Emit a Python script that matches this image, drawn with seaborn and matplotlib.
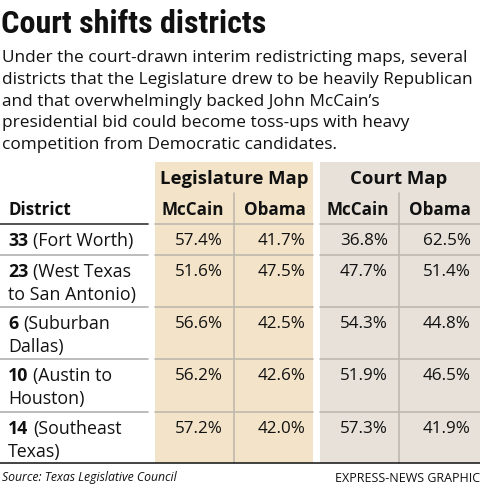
import matplotlib
matplotlib.use("Agg")
import matplotlib.pyplot as plt
from matplotlib import font_manager
import seaborn as sns

dist_num = ["33", "23", "6", "10", "14"]
dist_name = [["(Fort Worth)"],
             ["(West Texas", "to San Antonio)"],
             ["(Suburban", "Dallas)"],
             ["(Austin to", "Houston)"],
             ["(Southeast", "Texas)"]]
leg_mccain = [57.4, 51.6, 56.6, 56.2, 57.2]
leg_obama = [41.7, 47.5, 42.5, 42.6, 42.0]
court_mccain = [36.8, 47.7, 54.3, 51.9, 57.3]
court_obama = [62.5, 51.4, 44.8, 46.5, 41.9]

title = "Court shifts districts"
intro = ["Under the court-drawn interim redistricting maps, several",
         "districts that the Legislature drew to be heavily Republican",
         "and that overwhelmingly backed John McCain\u2019s",
         "presidential bid could become toss-ups with heavy",
         "competition from Democratic candidates."]

sns.set_theme(style="white")
plt.rcParams["font.family"] = ["Open Sans", "DejaVu Sans"]

W, H = 481, 488
fig = plt.figure(figsize=(W / 100, H / 100), dpi=100)
ax = fig.add_axes([0, 0, 1, 1])
ax.set_xlim(0, W)
ax.set_ylim(H, 0)
ax.axis("off")

def px(s):
    return s * 0.72

beige = "#f3e4c9"
greyband = "#e7e1d9"
ink = "#111111"

# pick a narrow bold face for the headline if one is around
installed = {f.name for f in font_manager.fontManager.ttflist}
narrow = [n for n in ["Liberation Sans Narrow", "Roboto Condensed", "Open Sans Condensed",
                      "DejaVu Sans Condensed", "Noto Sans Condensed", "Arial Narrow"]
          if n in installed]
title_family = narrow[:1] + ["Roboto", "DejaVu Sans"]

fig.canvas.draw()
renderer = fig.canvas.get_renderer()
inv = ax.transData.inverted()

def width_of(t):
    bb = t.get_window_extent(renderer)
    return inv.transform((bb.x1, bb.y0))[0] - inv.transform((bb.x0, bb.y0))[0]

tsize = 33
tt = ax.text(1, 24, title, fontsize=px(tsize), fontweight="bold", va="center",
             family=title_family, color=ink)
w = width_of(tt)
if w > 270:
    tt.set_fontsize(px(tsize * 266 / w))

for i, line in enumerate(intro):
    ax.text(2, 58.5 + i * 21.6, line, fontsize=px(17.2), va="center", color=ink)

# row layout
row_edges = [224, 255, 307, 359, 412, 463]
top_band = 162

ax.add_patch(plt.Rectangle((155, top_band), 158, 463 - top_band, color=beige, lw=0))
ax.add_patch(plt.Rectangle((320, top_band), W - 320, 463 - top_band, color=greyband, lw=0))

for x in [234, 399]:
    ax.plot([x, x], [193, 463], color="#bdb8ae", lw=1.2)

for j, y in enumerate(row_edges[:-1]):
    left_col = "#333333" if j == 0 else "#b0b0b0"
    ax.plot([0, 148], [y, y], color=left_col, lw=1.2)
    ax.plot([155, 313], [y, y], color="#bdb8ae", lw=1.2)
    ax.plot([320, W], [y, y], color="#bdb8ae", lw=1.2)
ax.plot([0, W], [463, 463], color="#222222", lw=1.2)

ax.text(234, 179, "Legislature Map", fontsize=px(18.5), fontweight="bold",
        ha="center", va="center", color=ink)
ax.text(399, 179, "Court Map", fontsize=px(18.5), fontweight="bold",
        ha="center", va="center", color=ink)
ax.text(8, 210, "District", fontsize=px(17), fontweight="bold", va="center", color=ink)
for cx, lab in zip([193, 275, 358, 440], ["McCain", "Obama", "McCain", "Obama"]):
    ax.text(cx, 210, lab, fontsize=px(17), fontweight="bold", ha="center",
            va="center", color=ink)

cols = [(223, leg_mccain), (306, leg_obama), (388, court_mccain), (471, court_obama)]
for i in range(len(dist_num)):
    y0 = row_edges[i] + 17
    t = ax.text(8, y0, dist_num[i], fontsize=px(17.8), fontweight="bold",
                va="center", color=ink)
    x_end = 8 + width_of(t)
    for k, part in enumerate(dist_name[i]):
        if k == 0:
            ax.text(x_end + 5, y0, part, fontsize=px(17.8), va="center", color=ink)
        else:
            ax.text(8, y0 + 23 * k, part, fontsize=px(17.8), va="center", color=ink)
    for xr, vals in cols:
        ax.text(xr, y0, f"{vals[i]:.1f}%", fontsize=px(17), ha="right",
                va="center", color=ink)

ax.text(2, 478, "Source: Texas Legislative Council", fontsize=px(12.3),
        style="italic", va="center", color=ink)
ax.text(480, 478, "EXPRESS-NEWS GRAPHIC", fontsize=px(12.5), ha="right",
        va="center", color=ink)

fig.savefig("out.png", dpi=100)
